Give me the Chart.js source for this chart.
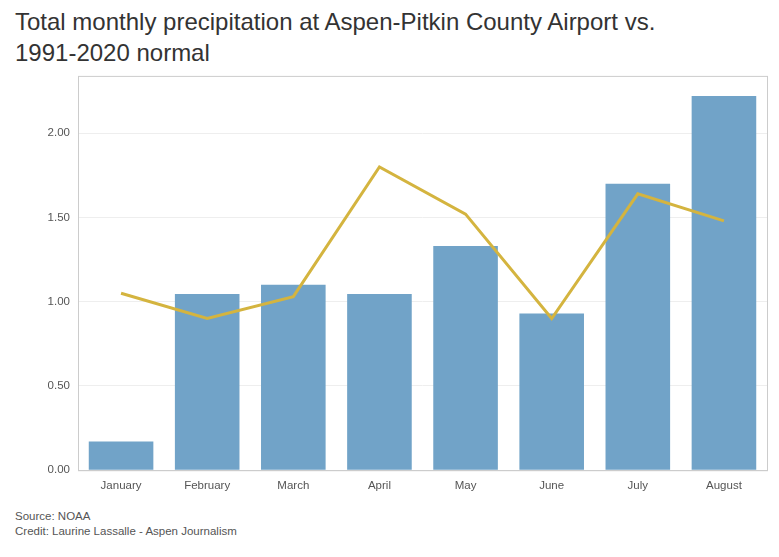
<!DOCTYPE html>
<html><head><meta charset="utf-8">
<script src="https://cdn.jsdelivr.net/npm/chart.js@4"></script>
<style>
body{margin:0;width:779px;height:557px;background:#fff;font-family:"Liberation Sans",Arial,sans-serif;overflow:hidden;position:relative}
#t{position:absolute;left:15px;top:6px;font-size:24px;line-height:31px;color:#333}
#c{position:absolute;left:0;top:61px;width:779px;height:439px}
#f{position:absolute;left:15px;top:509px;font-size:11.5px;line-height:15px;color:#555}
</style></head><body>
<div id="t">Total monthly precipitation at Aspen-Pitkin County Airport vs.<br>1991-2020 normal</div>
<div id="c"><canvas id="cv"></canvas></div>
<div id="f">Source: NOAA<br>Credit: Laurine Lassalle - Aspen Journalism</div>
<script>
const months=["January","February","March","April","May","June","July","August"];
const total=[0.17,1.045,1.10,1.045,1.33,0.93,1.70,2.22];
const normal=[1.05,0.90,1.03,1.80,1.52,0.90,1.64,1.48];
const frame={id:'frame',afterDraw(c){const a=c.chartArea,x=c.ctx;x.save();x.strokeStyle='#ccc';x.lineWidth=1;x.strokeRect(a.left+0.5,a.top+0.5,a.right-a.left,a.bottom-a.top);x.restore();}};
new Chart(document.getElementById('cv'),{
data:{labels:months,datasets:[
{type:'line',data:normal,borderColor:'#d4b43f',borderWidth:3,pointRadius:0,tension:0,order:0},
{type:'bar',data:total,backgroundColor:'#71a3c8',barPercentage:0.75,categoryPercentage:1,order:1}]},
options:{responsive:true,maintainAspectRatio:false,animation:false,
layout:{padding:{left:0,right:12,top:0,bottom:6}},
plugins:{legend:{display:false},tooltip:{enabled:false}},
scales:{
x:{grid:{display:false},border:{color:'#ccc'},ticks:{padding:1,color:'#555',font:{size:11.5,family:'Liberation Sans'}}},
y:{min:0,max:2.34,border:{display:false},grid:{color:'#eee',drawTicks:false},afterFit:s=>{s.width=78;},
ticks:{stepSize:0.5,includeBounds:false,padding:8,color:'#555',font:{size:11.5,family:'Liberation Sans'},callback:v=>v.toFixed(2)},
afterBuildTicks:s=>{s.ticks=s.ticks.filter(t=>Math.abs(t.value*2-Math.round(t.value*2))<1e-6);}}}},
plugins:[frame]});
</script></body></html>
